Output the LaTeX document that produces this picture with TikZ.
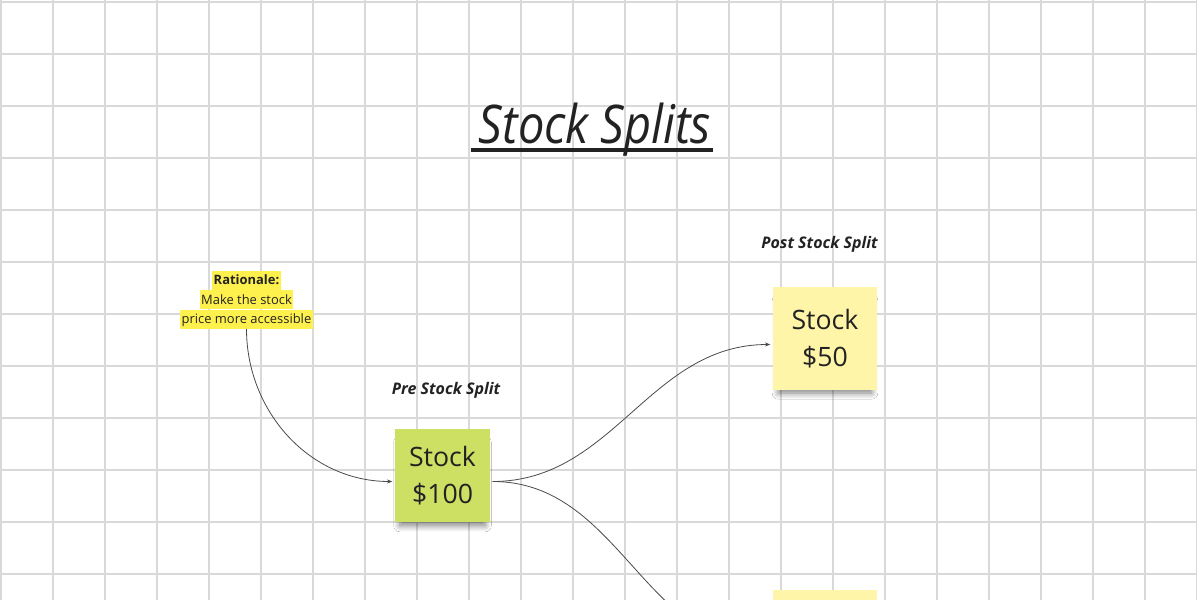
\documentclass[tikz,border=0pt]{standalone}
\usepackage{fontspec}
\setmainfont{Open Sans}
\usepackage{graphicx}
\usetikzlibrary{positioning,arrows.meta,shadows.blur}
\definecolor{gridgray}{HTML}{D9D9D9}
\definecolor{notegreen}{HTML}{CDE064}
\definecolor{noteyellow}{HTML}{FFF5A8}
\definecolor{marker}{HTML}{FFF14D}
\definecolor{linkgray}{HTML}{4A4A4A}
\definecolor{ink}{HTML}{222222}

\begin{document}
\begin{tikzpicture}[x=0.75pt, y=0.75pt,
    note/.style={inner sep=0pt, outer sep=2pt, align=center, text=ink,
        font=\fontsize{20}{28}\selectfont,
        blur shadow={shadow xshift=0pt, shadow yshift=-7pt, shadow scale=0.9,
            shadow opacity=50, shadow blur radius=5pt, shadow blur steps=12}},
    tag/.style={font=\fontsize{12}{14}\selectfont\bfseries\itshape, text=ink},
    highlit/.style={fill=marker, inner xsep=1pt, inner ysep=1pt, text=ink,
        text height=9.5pt, text depth=2.75pt, font=\fontsize{9.7}{12}\selectfont},
    link/.style={draw=linkgray, line width=0.6pt, -{Stealth[length=4pt,width=3pt]}}
]
    \useasboundingbox (0,0) rectangle (1197,-600);
    \clip (0,0) rectangle (1197,-600);
    \fill[white] (0,0) rectangle (1197,-600);
    % grid paper
    \foreach \gx in {0,...,23} {
        \draw[gridgray, line width=0.85pt] ({1+52*\gx},0) -- ({1+52*\gx},-600);
    }
    \foreach \gy in {0,...,11} {
        \draw[gridgray, line width=0.85pt] (0,{-2-52*\gy}) -- (1197,{-2-52*\gy});
    }

    \node[anchor=base, inner sep=0pt, text=ink, font=\fontsize{40}{40}\selectfont\itshape] (title) at (595,-143) {\scalebox{0.88}[1]{Stock Splits}};
    \draw[ink, line width=3pt] ([xshift=-6pt,yshift=-5.25pt]title.base west) -- ([xshift=1pt,yshift=-5.25pt]title.base east);

    \node[highlit, font=\fontsize{9.7}{12}\selectfont\bfseries] (rat1) at (246.5,-280) {Rationale:};
    \node[highlit, below=0pt of rat1] (rat2) {Make the stock};
    \node[highlit, below=0pt of rat2] (rat3) {price more accessible};

    \node[tag] (prelabel) at (446,-390) {Pre Stock Split};
    \node[tag] (postlabel) at (819.5,-244) {Post Stock Split};

    \node[note, fill=notegreen, minimum width=71.25pt, minimum height=69.75pt] (pre) at (442.5,-475.5) {Stock\\\$100};
    \node[note, fill=noteyellow, minimum width=78pt, minimum height=77pt] (post) at (825,-338.5) {Stock\\\$50};
    \node[note, fill=noteyellow, minimum width=78pt, minimum height=77pt] (postb) at (825,-641.5) {};

    \draw[link] (rat3.south) to[out=-90, in=180] ([yshift=-4.5pt]pre.west);
    \draw[link] ([yshift=-4.5pt]pre.east) to[out=0, in=180] ([yshift=-4.5pt]post.west);
    \draw[link] ([yshift=-4.5pt]pre.east) to[out=0, in=180] ([yshift=-4.5pt]postb.west);
\end{tikzpicture}
\end{document}
